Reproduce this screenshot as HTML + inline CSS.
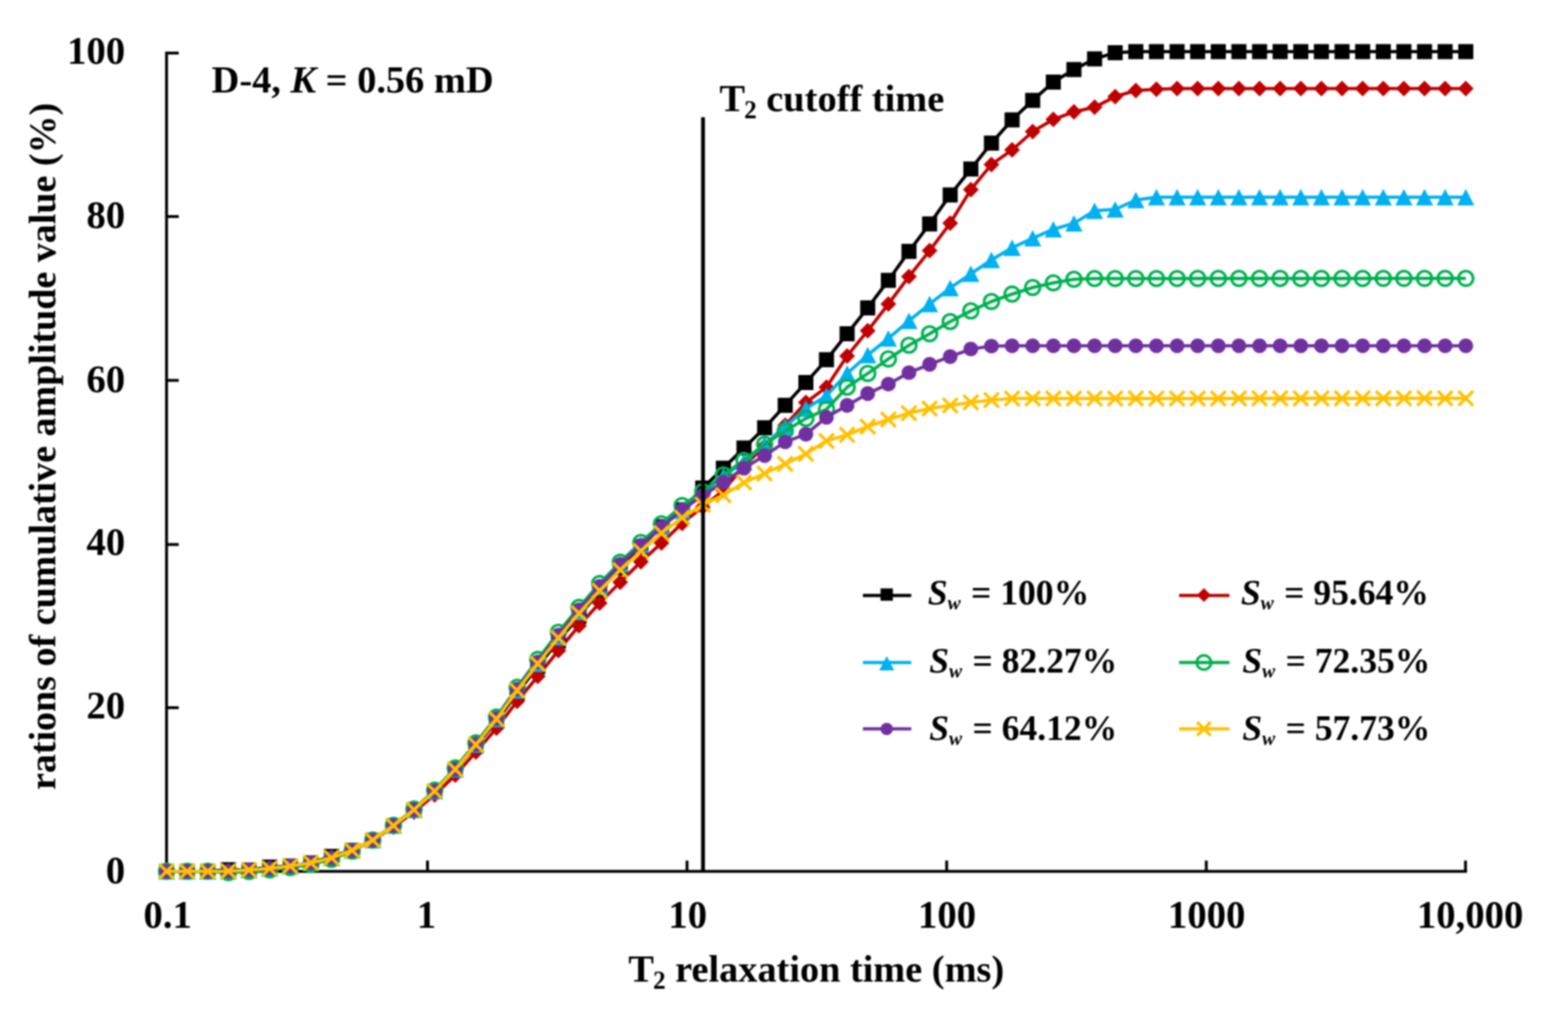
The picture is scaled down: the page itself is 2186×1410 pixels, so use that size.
<!DOCTYPE html>
<html lang="en"><head><meta charset="utf-8"><title>T2 relaxation time cumulative amplitude chart</title>
<style>
html,body{margin:0;padding:0;background:#fff;}
body{width:2186px;height:1410px;overflow:hidden;}
svg{display:block;font-family:"Liberation Serif","DejaVu Serif",serif;font-weight:bold;fill:#000;}
.it{font-style:italic;}
</style></head>
<body>
<svg width="2186" height="1410" viewBox="0 0 2186 1410" style="filter:blur(0.8px)">
<rect width="2186" height="1410" fill="#fff"/>
<g stroke="#000" stroke-width="4" fill="none" stroke-linecap="butt">
<path d="M232.2 72V1217.2"/>
<path d="M230.2 1215.2H2045.3"/>
<path d="M232.2 987H249.2"/>
<path d="M232.2 759.4H249.2"/>
<path d="M232.2 530.5H249.2"/>
<path d="M232.2 302H249.2"/>
<path d="M232.2 74H249.2"/>
<path d="M596 1215.2V1200.2"/>
<path d="M957.8 1215.2V1200.2"/>
<path d="M1319.8 1215.2V1200.2"/>
<path d="M1681.7 1215.2V1200.2"/>
<path d="M2043.1 1215.2V1200.2"/>
</g>
<g font-size="54" text-anchor="end">
<text x="174.5" y="1232.2">0</text>
<text x="174.5" y="1001.5">20</text>
<text x="174.5" y="774.4">40</text>
<text x="174.5" y="546.5">60</text>
<text x="174.5" y="317.5">80</text>
<text x="174.5" y="88.5">100</text>
</g>
<g font-size="54" text-anchor="middle">
<text x="233.8" y="1294">0.1</text>
<text x="594.5" y="1294">1</text>
<text x="958.8" y="1294">10</text>
<text x="1320.3" y="1294">100</text>
<text x="1682.2" y="1294">1000</text>
<text x="2049.6" y="1294">10,000</text>
</g>
<text font-size="53" text-anchor="middle" transform="translate(76.6 622.6) rotate(-90)">rations of cumulative amplitude value (%)</text>
<text font-size="53.4" x="876" y="1368.5">T<tspan font-size="35" font-weight="bold" dx="-1.2" dy="10">2</tspan><tspan dy="-10"> relaxation time (ms)</tspan></text>
<text font-size="53.5" x="295" y="129.3">D-4, <tspan class="it">K</tspan> = 0.56 mD</text>
<text font-size="53.5" x="1003" y="155.2">T<tspan font-size="35" font-weight="bold" dx="-1.2" dy="10">2</tspan><tspan dy="-10"> cutoff time</tspan></text>
<g>
<polyline points="232.2,1215.2 260.9,1215.2 289.7,1215.2 318.4,1213 347.2,1213.4 375.9,1209.3 404.7,1208 433.4,1203.4 462.2,1194.4 490.9,1186 519.7,1171.7 548.5,1151.5 577.2,1129.4 606,1103.5 634.7,1073 663.5,1040 692.2,1006 721,966.5 749.7,929.7 778.5,893.8 807.2,859.5 836,824.3 864.7,792 893.5,762.5 922.2,734.5 951,711 979.7,680.6 1008.5,653 1037.2,624.8 1066,596.6 1094.7,565.3 1123.5,533.5 1152.2,501.7 1181,465.5 1209.7,429.4 1238.5,391 1267.2,350.6 1296,312.3 1324.7,271.9 1353.5,235.7 1382.2,199.6 1411,167.2 1439.7,140 1468.5,114.5 1497.2,97 1526,82.1 1554.7,73.5 1583.5,72 1612.2,72 1641,72 1669.7,72 1698.5,72 1727.2,72 1756,72 1784.7,72 1813.5,72 1842.2,72 1871,72 1899.7,72 1928.5,72 1957.2,72 1986,72 2014.7,72 2043.5,72" fill="none" stroke="#000000" stroke-width="4.6" stroke-linejoin="round"/>
<rect x="221.7" y="1204.7" width="21" height="21" fill="#000000"/><rect x="250.4" y="1204.7" width="21" height="21" fill="#000000"/><rect x="279.2" y="1204.7" width="21" height="21" fill="#000000"/><rect x="307.9" y="1202.5" width="21" height="21" fill="#000000"/><rect x="336.7" y="1202.9" width="21" height="21" fill="#000000"/><rect x="365.4" y="1198.8" width="21" height="21" fill="#000000"/><rect x="394.2" y="1197.5" width="21" height="21" fill="#000000"/><rect x="422.9" y="1192.9" width="21" height="21" fill="#000000"/><rect x="451.7" y="1183.9" width="21" height="21" fill="#000000"/><rect x="480.4" y="1175.5" width="21" height="21" fill="#000000"/><rect x="509.2" y="1161.2" width="21" height="21" fill="#000000"/><rect x="538" y="1141" width="21" height="21" fill="#000000"/><rect x="566.7" y="1118.9" width="21" height="21" fill="#000000"/><rect x="595.5" y="1093" width="21" height="21" fill="#000000"/><rect x="624.2" y="1062.5" width="21" height="21" fill="#000000"/><rect x="653" y="1029.5" width="21" height="21" fill="#000000"/><rect x="681.7" y="995.5" width="21" height="21" fill="#000000"/><rect x="710.5" y="956" width="21" height="21" fill="#000000"/><rect x="739.2" y="919.2" width="21" height="21" fill="#000000"/><rect x="768" y="883.3" width="21" height="21" fill="#000000"/><rect x="796.7" y="849" width="21" height="21" fill="#000000"/><rect x="825.5" y="813.8" width="21" height="21" fill="#000000"/><rect x="854.2" y="781.5" width="21" height="21" fill="#000000"/><rect x="883" y="752" width="21" height="21" fill="#000000"/><rect x="911.7" y="724" width="21" height="21" fill="#000000"/><rect x="940.5" y="700.5" width="21" height="21" fill="#000000"/><rect x="969.2" y="670.1" width="21" height="21" fill="#000000"/><rect x="998" y="642.5" width="21" height="21" fill="#000000"/><rect x="1026.7" y="614.3" width="21" height="21" fill="#000000"/><rect x="1055.5" y="586.1" width="21" height="21" fill="#000000"/><rect x="1084.2" y="554.8" width="21" height="21" fill="#000000"/><rect x="1113" y="523" width="21" height="21" fill="#000000"/><rect x="1141.7" y="491.2" width="21" height="21" fill="#000000"/><rect x="1170.5" y="455" width="21" height="21" fill="#000000"/><rect x="1199.2" y="418.9" width="21" height="21" fill="#000000"/><rect x="1228" y="380.5" width="21" height="21" fill="#000000"/><rect x="1256.7" y="340.1" width="21" height="21" fill="#000000"/><rect x="1285.5" y="301.8" width="21" height="21" fill="#000000"/><rect x="1314.2" y="261.4" width="21" height="21" fill="#000000"/><rect x="1343" y="225.2" width="21" height="21" fill="#000000"/><rect x="1371.7" y="189.1" width="21" height="21" fill="#000000"/><rect x="1400.5" y="156.7" width="21" height="21" fill="#000000"/><rect x="1429.2" y="129.5" width="21" height="21" fill="#000000"/><rect x="1458" y="104" width="21" height="21" fill="#000000"/><rect x="1486.7" y="86.5" width="21" height="21" fill="#000000"/><rect x="1515.5" y="71.6" width="21" height="21" fill="#000000"/><rect x="1544.2" y="63" width="21" height="21" fill="#000000"/><rect x="1573" y="61.5" width="21" height="21" fill="#000000"/><rect x="1601.7" y="61.5" width="21" height="21" fill="#000000"/><rect x="1630.5" y="61.5" width="21" height="21" fill="#000000"/><rect x="1659.2" y="61.5" width="21" height="21" fill="#000000"/><rect x="1688" y="61.5" width="21" height="21" fill="#000000"/><rect x="1716.7" y="61.5" width="21" height="21" fill="#000000"/><rect x="1745.5" y="61.5" width="21" height="21" fill="#000000"/><rect x="1774.2" y="61.5" width="21" height="21" fill="#000000"/><rect x="1803" y="61.5" width="21" height="21" fill="#000000"/><rect x="1831.7" y="61.5" width="21" height="21" fill="#000000"/><rect x="1860.5" y="61.5" width="21" height="21" fill="#000000"/><rect x="1889.2" y="61.5" width="21" height="21" fill="#000000"/><rect x="1918" y="61.5" width="21" height="21" fill="#000000"/><rect x="1946.7" y="61.5" width="21" height="21" fill="#000000"/><rect x="1975.5" y="61.5" width="21" height="21" fill="#000000"/><rect x="2004.2" y="61.5" width="21" height="21" fill="#000000"/><rect x="2033" y="61.5" width="21" height="21" fill="#000000"/>
</g>
<g>
<polyline points="232.2,1215.2 260.9,1215.2 289.7,1215.2 318.4,1215 347.2,1213.4 375.9,1211.3 404.7,1208 433.4,1203.4 462.2,1196.4 490.9,1186 519.7,1171.7 548.5,1153.5 577.2,1132.4 606,1108.5 634.7,1081 663.5,1048.8 692.2,1015.4 721,978 749.7,943.2 778.5,907.2 807.2,872.8 836,840.9 864.7,812 893.5,783.5 922.2,757.3 951,730 979.7,707 1008.5,684 1037.2,650 1066,622 1094.7,593 1123.5,561.3 1152.2,540 1181,496.4 1209.7,461.3 1238.5,424 1267.2,385.7 1296,349.6 1324.7,311.3 1353.5,264.5 1382.2,229.4 1411,209.1 1439.7,183.6 1468.5,166.6 1497.2,156 1526,149.6 1554.7,134.7 1583.5,126.2 1612.2,124.5 1641,123.5 1669.7,123.5 1698.5,123.5 1727.2,123.5 1756,123.5 1784.7,123.5 1813.5,123.5 1842.2,123.5 1871,123.5 1899.7,123.5 1928.5,123.5 1957.2,123.5 1986,123.5 2014.7,123.5 2043.5,123.5" fill="none" stroke="#c00000" stroke-width="4.6" stroke-linejoin="round"/>
<path d="M232.2 1204.2L243.2 1215.2L232.2 1226.2L221.2 1215.2Z" fill="#c00000"/><path d="M260.9 1204.2L271.9 1215.2L260.9 1226.2L249.9 1215.2Z" fill="#c00000"/><path d="M289.7 1204.2L300.7 1215.2L289.7 1226.2L278.7 1215.2Z" fill="#c00000"/><path d="M318.4 1204L329.4 1215L318.4 1226L307.4 1215Z" fill="#c00000"/><path d="M347.2 1202.4L358.2 1213.4L347.2 1224.4L336.2 1213.4Z" fill="#c00000"/><path d="M375.9 1200.3L386.9 1211.3L375.9 1222.3L364.9 1211.3Z" fill="#c00000"/><path d="M404.7 1197L415.7 1208L404.7 1219L393.7 1208Z" fill="#c00000"/><path d="M433.4 1192.4L444.4 1203.4L433.4 1214.4L422.4 1203.4Z" fill="#c00000"/><path d="M462.2 1185.4L473.2 1196.4L462.2 1207.4L451.2 1196.4Z" fill="#c00000"/><path d="M490.9 1175L501.9 1186L490.9 1197L479.9 1186Z" fill="#c00000"/><path d="M519.7 1160.7L530.7 1171.7L519.7 1182.7L508.7 1171.7Z" fill="#c00000"/><path d="M548.5 1142.5L559.5 1153.5L548.5 1164.5L537.5 1153.5Z" fill="#c00000"/><path d="M577.2 1121.4L588.2 1132.4L577.2 1143.4L566.2 1132.4Z" fill="#c00000"/><path d="M606 1097.5L617 1108.5L606 1119.5L595 1108.5Z" fill="#c00000"/><path d="M634.7 1070L645.7 1081L634.7 1092L623.7 1081Z" fill="#c00000"/><path d="M663.5 1037.8L674.5 1048.8L663.5 1059.8L652.5 1048.8Z" fill="#c00000"/><path d="M692.2 1004.4L703.2 1015.4L692.2 1026.4L681.2 1015.4Z" fill="#c00000"/><path d="M721 967L732 978L721 989L710 978Z" fill="#c00000"/><path d="M749.7 932.2L760.7 943.2L749.7 954.2L738.7 943.2Z" fill="#c00000"/><path d="M778.5 896.2L789.5 907.2L778.5 918.2L767.5 907.2Z" fill="#c00000"/><path d="M807.2 861.8L818.2 872.8L807.2 883.8L796.2 872.8Z" fill="#c00000"/><path d="M836 829.9L847 840.9L836 851.9L825 840.9Z" fill="#c00000"/><path d="M864.7 801L875.7 812L864.7 823L853.7 812Z" fill="#c00000"/><path d="M893.5 772.5L904.5 783.5L893.5 794.5L882.5 783.5Z" fill="#c00000"/><path d="M922.2 746.3L933.2 757.3L922.2 768.3L911.2 757.3Z" fill="#c00000"/><path d="M951 719L962 730L951 741L940 730Z" fill="#c00000"/><path d="M979.7 696L990.7 707L979.7 718L968.7 707Z" fill="#c00000"/><path d="M1008.5 673L1019.5 684L1008.5 695L997.5 684Z" fill="#c00000"/><path d="M1037.2 639L1048.2 650L1037.2 661L1026.2 650Z" fill="#c00000"/><path d="M1066 611L1077 622L1066 633L1055 622Z" fill="#c00000"/><path d="M1094.7 582L1105.7 593L1094.7 604L1083.7 593Z" fill="#c00000"/><path d="M1123.5 550.3L1134.5 561.3L1123.5 572.3L1112.5 561.3Z" fill="#c00000"/><path d="M1152.2 529L1163.2 540L1152.2 551L1141.2 540Z" fill="#c00000"/><path d="M1181 485.4L1192 496.4L1181 507.4L1170 496.4Z" fill="#c00000"/><path d="M1209.7 450.3L1220.7 461.3L1209.7 472.3L1198.7 461.3Z" fill="#c00000"/><path d="M1238.5 413L1249.5 424L1238.5 435L1227.5 424Z" fill="#c00000"/><path d="M1267.2 374.7L1278.2 385.7L1267.2 396.7L1256.2 385.7Z" fill="#c00000"/><path d="M1296 338.6L1307 349.6L1296 360.6L1285 349.6Z" fill="#c00000"/><path d="M1324.7 300.3L1335.7 311.3L1324.7 322.3L1313.7 311.3Z" fill="#c00000"/><path d="M1353.5 253.5L1364.5 264.5L1353.5 275.5L1342.5 264.5Z" fill="#c00000"/><path d="M1382.2 218.4L1393.2 229.4L1382.2 240.4L1371.2 229.4Z" fill="#c00000"/><path d="M1411 198.1L1422 209.1L1411 220.1L1400 209.1Z" fill="#c00000"/><path d="M1439.7 172.6L1450.7 183.6L1439.7 194.6L1428.7 183.6Z" fill="#c00000"/><path d="M1468.5 155.6L1479.5 166.6L1468.5 177.6L1457.5 166.6Z" fill="#c00000"/><path d="M1497.2 145L1508.2 156L1497.2 167L1486.2 156Z" fill="#c00000"/><path d="M1526 138.6L1537 149.6L1526 160.6L1515 149.6Z" fill="#c00000"/><path d="M1554.7 123.7L1565.7 134.7L1554.7 145.7L1543.7 134.7Z" fill="#c00000"/><path d="M1583.5 115.2L1594.5 126.2L1583.5 137.2L1572.5 126.2Z" fill="#c00000"/><path d="M1612.2 113.5L1623.2 124.5L1612.2 135.5L1601.2 124.5Z" fill="#c00000"/><path d="M1641 112.5L1652 123.5L1641 134.5L1630 123.5Z" fill="#c00000"/><path d="M1669.7 112.5L1680.7 123.5L1669.7 134.5L1658.7 123.5Z" fill="#c00000"/><path d="M1698.5 112.5L1709.5 123.5L1698.5 134.5L1687.5 123.5Z" fill="#c00000"/><path d="M1727.2 112.5L1738.2 123.5L1727.2 134.5L1716.2 123.5Z" fill="#c00000"/><path d="M1756 112.5L1767 123.5L1756 134.5L1745 123.5Z" fill="#c00000"/><path d="M1784.7 112.5L1795.7 123.5L1784.7 134.5L1773.7 123.5Z" fill="#c00000"/><path d="M1813.5 112.5L1824.5 123.5L1813.5 134.5L1802.5 123.5Z" fill="#c00000"/><path d="M1842.2 112.5L1853.2 123.5L1842.2 134.5L1831.2 123.5Z" fill="#c00000"/><path d="M1871 112.5L1882 123.5L1871 134.5L1860 123.5Z" fill="#c00000"/><path d="M1899.7 112.5L1910.7 123.5L1899.7 134.5L1888.7 123.5Z" fill="#c00000"/><path d="M1928.5 112.5L1939.5 123.5L1928.5 134.5L1917.5 123.5Z" fill="#c00000"/><path d="M1957.2 112.5L1968.2 123.5L1957.2 134.5L1946.2 123.5Z" fill="#c00000"/><path d="M1986 112.5L1997 123.5L1986 134.5L1975 123.5Z" fill="#c00000"/><path d="M2014.7 112.5L2025.7 123.5L2014.7 134.5L2003.7 123.5Z" fill="#c00000"/><path d="M2043.5 112.5L2054.4 123.5L2043.5 134.5L2032.5 123.5Z" fill="#c00000"/>
</g>
<g>
<polyline points="232.2,1215.2 260.9,1215.2 289.7,1215.2 318.4,1215 347.2,1213.4 375.9,1211.3 404.7,1208 433.4,1203.4 462.2,1196.4 490.9,1186 519.7,1171.7 548.5,1151.5 577.2,1129.4 606,1103.5 634.7,1073 663.5,1038.5 692.2,1003 721,963 749.7,925.7 778.5,888.8 807.2,853.5 836,818.8 864.7,787 893.5,760 922.2,734.4 951,712.4 979.7,688 1008.5,664 1037.2,644 1066,620 1094.7,595 1123.5,570 1152.2,552 1181,520.9 1209.7,495.3 1238.5,471.9 1267.2,447.4 1296,424 1324.7,401.7 1353.5,381.8 1382.2,362.5 1411,345.5 1439.7,332.3 1468.5,319.7 1497.2,311.4 1526,293.9 1554.7,292 1583.5,279 1612.2,275 1641,275 1669.7,275 1698.5,275 1727.2,275 1756,275 1784.7,275 1813.5,275 1842.2,275 1871,275 1899.7,275 1928.5,275 1957.2,275 1986,275 2014.7,275 2043.5,275" fill="none" stroke="#00b0f0" stroke-width="4.6" stroke-linejoin="round"/>
<path d="M232.2 1203.7L244.2 1226.7L220.2 1226.7Z" fill="#00b0f0"/><path d="M260.9 1203.7L272.9 1226.7L248.9 1226.7Z" fill="#00b0f0"/><path d="M289.7 1203.7L301.7 1226.7L277.7 1226.7Z" fill="#00b0f0"/><path d="M318.4 1203.5L330.4 1226.5L306.4 1226.5Z" fill="#00b0f0"/><path d="M347.2 1201.9L359.2 1224.9L335.2 1224.9Z" fill="#00b0f0"/><path d="M375.9 1199.8L387.9 1222.8L363.9 1222.8Z" fill="#00b0f0"/><path d="M404.7 1196.5L416.7 1219.5L392.7 1219.5Z" fill="#00b0f0"/><path d="M433.4 1191.9L445.4 1214.9L421.4 1214.9Z" fill="#00b0f0"/><path d="M462.2 1184.9L474.2 1207.9L450.2 1207.9Z" fill="#00b0f0"/><path d="M490.9 1174.5L502.9 1197.5L478.9 1197.5Z" fill="#00b0f0"/><path d="M519.7 1160.2L531.7 1183.2L507.7 1183.2Z" fill="#00b0f0"/><path d="M548.5 1140L560.5 1163L536.5 1163Z" fill="#00b0f0"/><path d="M577.2 1117.9L589.2 1140.9L565.2 1140.9Z" fill="#00b0f0"/><path d="M606 1092L618 1115L594 1115Z" fill="#00b0f0"/><path d="M634.7 1061.5L646.7 1084.5L622.7 1084.5Z" fill="#00b0f0"/><path d="M663.5 1027L675.5 1050L651.5 1050Z" fill="#00b0f0"/><path d="M692.2 991.5L704.2 1014.5L680.2 1014.5Z" fill="#00b0f0"/><path d="M721 951.5L733 974.5L709 974.5Z" fill="#00b0f0"/><path d="M749.7 914.2L761.7 937.2L737.7 937.2Z" fill="#00b0f0"/><path d="M778.5 877.3L790.5 900.3L766.5 900.3Z" fill="#00b0f0"/><path d="M807.2 842L819.2 865L795.2 865Z" fill="#00b0f0"/><path d="M836 807.3L848 830.3L824 830.3Z" fill="#00b0f0"/><path d="M864.7 775.5L876.7 798.5L852.7 798.5Z" fill="#00b0f0"/><path d="M893.5 748.5L905.5 771.5L881.5 771.5Z" fill="#00b0f0"/><path d="M922.2 722.9L934.2 745.9L910.2 745.9Z" fill="#00b0f0"/><path d="M951 700.9L963 723.9L939 723.9Z" fill="#00b0f0"/><path d="M979.7 676.5L991.7 699.5L967.7 699.5Z" fill="#00b0f0"/><path d="M1008.5 652.5L1020.5 675.5L996.5 675.5Z" fill="#00b0f0"/><path d="M1037.2 632.5L1049.2 655.5L1025.2 655.5Z" fill="#00b0f0"/><path d="M1066 608.5L1078 631.5L1054 631.5Z" fill="#00b0f0"/><path d="M1094.7 583.5L1106.7 606.5L1082.7 606.5Z" fill="#00b0f0"/><path d="M1123.5 558.5L1135.5 581.5L1111.5 581.5Z" fill="#00b0f0"/><path d="M1152.2 540.5L1164.2 563.5L1140.2 563.5Z" fill="#00b0f0"/><path d="M1181 509.4L1193 532.4L1169 532.4Z" fill="#00b0f0"/><path d="M1209.7 483.8L1221.7 506.8L1197.7 506.8Z" fill="#00b0f0"/><path d="M1238.5 460.4L1250.5 483.4L1226.5 483.4Z" fill="#00b0f0"/><path d="M1267.2 435.9L1279.2 458.9L1255.2 458.9Z" fill="#00b0f0"/><path d="M1296 412.5L1308 435.5L1284 435.5Z" fill="#00b0f0"/><path d="M1324.7 390.2L1336.7 413.2L1312.7 413.2Z" fill="#00b0f0"/><path d="M1353.5 370.3L1365.5 393.3L1341.5 393.3Z" fill="#00b0f0"/><path d="M1382.2 351L1394.2 374L1370.2 374Z" fill="#00b0f0"/><path d="M1411 334L1423 357L1399 357Z" fill="#00b0f0"/><path d="M1439.7 320.8L1451.7 343.8L1427.7 343.8Z" fill="#00b0f0"/><path d="M1468.5 308.2L1480.5 331.2L1456.5 331.2Z" fill="#00b0f0"/><path d="M1497.2 299.9L1509.2 322.9L1485.2 322.9Z" fill="#00b0f0"/><path d="M1526 282.4L1538 305.4L1514 305.4Z" fill="#00b0f0"/><path d="M1554.7 280.5L1566.7 303.5L1542.7 303.5Z" fill="#00b0f0"/><path d="M1583.5 267.5L1595.5 290.5L1571.5 290.5Z" fill="#00b0f0"/><path d="M1612.2 263.5L1624.2 286.5L1600.2 286.5Z" fill="#00b0f0"/><path d="M1641 263.5L1653 286.5L1629 286.5Z" fill="#00b0f0"/><path d="M1669.7 263.5L1681.7 286.5L1657.7 286.5Z" fill="#00b0f0"/><path d="M1698.5 263.5L1710.5 286.5L1686.5 286.5Z" fill="#00b0f0"/><path d="M1727.2 263.5L1739.2 286.5L1715.2 286.5Z" fill="#00b0f0"/><path d="M1756 263.5L1768 286.5L1744 286.5Z" fill="#00b0f0"/><path d="M1784.7 263.5L1796.7 286.5L1772.7 286.5Z" fill="#00b0f0"/><path d="M1813.5 263.5L1825.5 286.5L1801.5 286.5Z" fill="#00b0f0"/><path d="M1842.2 263.5L1854.2 286.5L1830.2 286.5Z" fill="#00b0f0"/><path d="M1871 263.5L1883 286.5L1859 286.5Z" fill="#00b0f0"/><path d="M1899.7 263.5L1911.7 286.5L1887.7 286.5Z" fill="#00b0f0"/><path d="M1928.5 263.5L1940.5 286.5L1916.5 286.5Z" fill="#00b0f0"/><path d="M1957.2 263.5L1969.2 286.5L1945.2 286.5Z" fill="#00b0f0"/><path d="M1986 263.5L1998 286.5L1974 286.5Z" fill="#00b0f0"/><path d="M2014.7 263.5L2026.7 286.5L2002.7 286.5Z" fill="#00b0f0"/><path d="M2043.5 263.5L2055.4 286.5L2031.5 286.5Z" fill="#00b0f0"/>
</g>
<g>
<polyline points="232.2,1215.2 260.9,1215.2 289.7,1215.2 318.4,1217 347.2,1215.4 375.9,1213.3 404.7,1210 433.4,1205.4 462.2,1198.4 490.9,1187 519.7,1171.7 548.5,1151 577.2,1128.4 606,1102 634.7,1071 663.5,1036 692.2,1000 721,958.5 749.7,919.7 778.5,881.8 807.2,847 836,813.8 864.7,784 893.5,756.5 922.2,730.5 951,705 979.7,685.5 1008.5,662.3 1037.2,642 1066,619.5 1094.7,601 1123.5,583.6 1152.2,570.9 1181,540 1209.7,520.9 1238.5,500.6 1267.2,481.5 1296,465.5 1324.7,448.5 1353.5,433.6 1382.2,420.5 1411,410.2 1439.7,401 1468.5,394.5 1497.2,389.5 1526,388.5 1554.7,388.5 1583.5,388.5 1612.2,388.5 1641,388.5 1669.7,388.4 1698.5,388.4 1727.2,388.4 1756,388.4 1784.7,388.4 1813.5,388.4 1842.2,388.4 1871,388.4 1899.7,388.4 1928.5,388.3 1957.2,388.3 1986,388.3 2014.7,388.3 2043.5,388.3" fill="none" stroke="#00b050" stroke-width="4.6" stroke-linejoin="round"/>
<circle cx="232.2" cy="1215.2" r="10.2" fill="none" stroke="#00b050" stroke-width="3.8"/><circle cx="260.9" cy="1215.2" r="10.2" fill="none" stroke="#00b050" stroke-width="3.8"/><circle cx="289.7" cy="1215.2" r="10.2" fill="none" stroke="#00b050" stroke-width="3.8"/><circle cx="318.4" cy="1217" r="10.2" fill="none" stroke="#00b050" stroke-width="3.8"/><circle cx="347.2" cy="1215.4" r="10.2" fill="none" stroke="#00b050" stroke-width="3.8"/><circle cx="375.9" cy="1213.3" r="10.2" fill="none" stroke="#00b050" stroke-width="3.8"/><circle cx="404.7" cy="1210" r="10.2" fill="none" stroke="#00b050" stroke-width="3.8"/><circle cx="433.4" cy="1205.4" r="10.2" fill="none" stroke="#00b050" stroke-width="3.8"/><circle cx="462.2" cy="1198.4" r="10.2" fill="none" stroke="#00b050" stroke-width="3.8"/><circle cx="490.9" cy="1187" r="10.2" fill="none" stroke="#00b050" stroke-width="3.8"/><circle cx="519.7" cy="1171.7" r="10.2" fill="none" stroke="#00b050" stroke-width="3.8"/><circle cx="548.5" cy="1151" r="10.2" fill="none" stroke="#00b050" stroke-width="3.8"/><circle cx="577.2" cy="1128.4" r="10.2" fill="none" stroke="#00b050" stroke-width="3.8"/><circle cx="606" cy="1102" r="10.2" fill="none" stroke="#00b050" stroke-width="3.8"/><circle cx="634.7" cy="1071" r="10.2" fill="none" stroke="#00b050" stroke-width="3.8"/><circle cx="663.5" cy="1036" r="10.2" fill="none" stroke="#00b050" stroke-width="3.8"/><circle cx="692.2" cy="1000" r="10.2" fill="none" stroke="#00b050" stroke-width="3.8"/><circle cx="721" cy="958.5" r="10.2" fill="none" stroke="#00b050" stroke-width="3.8"/><circle cx="749.7" cy="919.7" r="10.2" fill="none" stroke="#00b050" stroke-width="3.8"/><circle cx="778.5" cy="881.8" r="10.2" fill="none" stroke="#00b050" stroke-width="3.8"/><circle cx="807.2" cy="847" r="10.2" fill="none" stroke="#00b050" stroke-width="3.8"/><circle cx="836" cy="813.8" r="10.2" fill="none" stroke="#00b050" stroke-width="3.8"/><circle cx="864.7" cy="784" r="10.2" fill="none" stroke="#00b050" stroke-width="3.8"/><circle cx="893.5" cy="756.5" r="10.2" fill="none" stroke="#00b050" stroke-width="3.8"/><circle cx="922.2" cy="730.5" r="10.2" fill="none" stroke="#00b050" stroke-width="3.8"/><circle cx="951" cy="705" r="10.2" fill="none" stroke="#00b050" stroke-width="3.8"/><circle cx="979.7" cy="685.5" r="10.2" fill="none" stroke="#00b050" stroke-width="3.8"/><circle cx="1008.5" cy="662.3" r="10.2" fill="none" stroke="#00b050" stroke-width="3.8"/><circle cx="1037.2" cy="642" r="10.2" fill="none" stroke="#00b050" stroke-width="3.8"/><circle cx="1066" cy="619.5" r="10.2" fill="none" stroke="#00b050" stroke-width="3.8"/><circle cx="1094.7" cy="601" r="10.2" fill="none" stroke="#00b050" stroke-width="3.8"/><circle cx="1123.5" cy="583.6" r="10.2" fill="none" stroke="#00b050" stroke-width="3.8"/><circle cx="1152.2" cy="570.9" r="10.2" fill="none" stroke="#00b050" stroke-width="3.8"/><circle cx="1181" cy="540" r="10.2" fill="none" stroke="#00b050" stroke-width="3.8"/><circle cx="1209.7" cy="520.9" r="10.2" fill="none" stroke="#00b050" stroke-width="3.8"/><circle cx="1238.5" cy="500.6" r="10.2" fill="none" stroke="#00b050" stroke-width="3.8"/><circle cx="1267.2" cy="481.5" r="10.2" fill="none" stroke="#00b050" stroke-width="3.8"/><circle cx="1296" cy="465.5" r="10.2" fill="none" stroke="#00b050" stroke-width="3.8"/><circle cx="1324.7" cy="448.5" r="10.2" fill="none" stroke="#00b050" stroke-width="3.8"/><circle cx="1353.5" cy="433.6" r="10.2" fill="none" stroke="#00b050" stroke-width="3.8"/><circle cx="1382.2" cy="420.5" r="10.2" fill="none" stroke="#00b050" stroke-width="3.8"/><circle cx="1411" cy="410.2" r="10.2" fill="none" stroke="#00b050" stroke-width="3.8"/><circle cx="1439.7" cy="401" r="10.2" fill="none" stroke="#00b050" stroke-width="3.8"/><circle cx="1468.5" cy="394.5" r="10.2" fill="none" stroke="#00b050" stroke-width="3.8"/><circle cx="1497.2" cy="389.5" r="10.2" fill="none" stroke="#00b050" stroke-width="3.8"/><circle cx="1526" cy="388.5" r="10.2" fill="none" stroke="#00b050" stroke-width="3.8"/><circle cx="1554.7" cy="388.5" r="10.2" fill="none" stroke="#00b050" stroke-width="3.8"/><circle cx="1583.5" cy="388.5" r="10.2" fill="none" stroke="#00b050" stroke-width="3.8"/><circle cx="1612.2" cy="388.5" r="10.2" fill="none" stroke="#00b050" stroke-width="3.8"/><circle cx="1641" cy="388.5" r="10.2" fill="none" stroke="#00b050" stroke-width="3.8"/><circle cx="1669.7" cy="388.4" r="10.2" fill="none" stroke="#00b050" stroke-width="3.8"/><circle cx="1698.5" cy="388.4" r="10.2" fill="none" stroke="#00b050" stroke-width="3.8"/><circle cx="1727.2" cy="388.4" r="10.2" fill="none" stroke="#00b050" stroke-width="3.8"/><circle cx="1756" cy="388.4" r="10.2" fill="none" stroke="#00b050" stroke-width="3.8"/><circle cx="1784.7" cy="388.4" r="10.2" fill="none" stroke="#00b050" stroke-width="3.8"/><circle cx="1813.5" cy="388.4" r="10.2" fill="none" stroke="#00b050" stroke-width="3.8"/><circle cx="1842.2" cy="388.4" r="10.2" fill="none" stroke="#00b050" stroke-width="3.8"/><circle cx="1871" cy="388.4" r="10.2" fill="none" stroke="#00b050" stroke-width="3.8"/><circle cx="1899.7" cy="388.4" r="10.2" fill="none" stroke="#00b050" stroke-width="3.8"/><circle cx="1928.5" cy="388.3" r="10.2" fill="none" stroke="#00b050" stroke-width="3.8"/><circle cx="1957.2" cy="388.3" r="10.2" fill="none" stroke="#00b050" stroke-width="3.8"/><circle cx="1986" cy="388.3" r="10.2" fill="none" stroke="#00b050" stroke-width="3.8"/><circle cx="2014.7" cy="388.3" r="10.2" fill="none" stroke="#00b050" stroke-width="3.8"/><circle cx="2043.5" cy="388.3" r="10.2" fill="none" stroke="#00b050" stroke-width="3.8"/>
</g>
<g>
<polyline points="232.2,1215.2 260.9,1215.2 289.7,1215.2 318.4,1215 347.2,1213.4 375.9,1211.3 404.7,1208 433.4,1203.4 462.2,1196.4 490.9,1186 519.7,1171.7 548.5,1151.5 577.2,1129.4 606,1103.5 634.7,1073 663.5,1038 692.2,1002 721,961.2 749.7,923.2 778.5,885.8 807.2,850.5 836,817.8 864.7,787 893.5,760.5 922.2,735 951,711 979.7,691 1008.5,672.7 1037.2,653 1066,635.4 1094.7,616.3 1123.5,605.6 1152.2,582 1181,565.4 1209.7,548.9 1238.5,535.7 1267.2,519.8 1296,508.1 1324.7,497.4 1353.5,486.8 1382.2,482.8 1411,482.3 1439.7,482.3 1468.5,482.3 1497.2,482.3 1526,482.3 1554.7,482.3 1583.5,482.3 1612.2,482.3 1641,482.3 1669.7,482.3 1698.5,482.3 1727.2,482.3 1756,482.3 1784.7,482.3 1813.5,482.3 1842.2,482.3 1871,482.3 1899.7,482.3 1928.5,482.3 1957.2,482.3 1986,482.3 2014.7,482.3 2043.5,482.3" fill="none" stroke="#7030a0" stroke-width="4.6" stroke-linejoin="round"/>
<circle cx="232.2" cy="1215.2" r="10.3" fill="#7030a0"/><circle cx="260.9" cy="1215.2" r="10.3" fill="#7030a0"/><circle cx="289.7" cy="1215.2" r="10.3" fill="#7030a0"/><circle cx="318.4" cy="1215" r="10.3" fill="#7030a0"/><circle cx="347.2" cy="1213.4" r="10.3" fill="#7030a0"/><circle cx="375.9" cy="1211.3" r="10.3" fill="#7030a0"/><circle cx="404.7" cy="1208" r="10.3" fill="#7030a0"/><circle cx="433.4" cy="1203.4" r="10.3" fill="#7030a0"/><circle cx="462.2" cy="1196.4" r="10.3" fill="#7030a0"/><circle cx="490.9" cy="1186" r="10.3" fill="#7030a0"/><circle cx="519.7" cy="1171.7" r="10.3" fill="#7030a0"/><circle cx="548.5" cy="1151.5" r="10.3" fill="#7030a0"/><circle cx="577.2" cy="1129.4" r="10.3" fill="#7030a0"/><circle cx="606" cy="1103.5" r="10.3" fill="#7030a0"/><circle cx="634.7" cy="1073" r="10.3" fill="#7030a0"/><circle cx="663.5" cy="1038" r="10.3" fill="#7030a0"/><circle cx="692.2" cy="1002" r="10.3" fill="#7030a0"/><circle cx="721" cy="961.2" r="10.3" fill="#7030a0"/><circle cx="749.7" cy="923.2" r="10.3" fill="#7030a0"/><circle cx="778.5" cy="885.8" r="10.3" fill="#7030a0"/><circle cx="807.2" cy="850.5" r="10.3" fill="#7030a0"/><circle cx="836" cy="817.8" r="10.3" fill="#7030a0"/><circle cx="864.7" cy="787" r="10.3" fill="#7030a0"/><circle cx="893.5" cy="760.5" r="10.3" fill="#7030a0"/><circle cx="922.2" cy="735" r="10.3" fill="#7030a0"/><circle cx="951" cy="711" r="10.3" fill="#7030a0"/><circle cx="979.7" cy="691" r="10.3" fill="#7030a0"/><circle cx="1008.5" cy="672.7" r="10.3" fill="#7030a0"/><circle cx="1037.2" cy="653" r="10.3" fill="#7030a0"/><circle cx="1066" cy="635.4" r="10.3" fill="#7030a0"/><circle cx="1094.7" cy="616.3" r="10.3" fill="#7030a0"/><circle cx="1123.5" cy="605.6" r="10.3" fill="#7030a0"/><circle cx="1152.2" cy="582" r="10.3" fill="#7030a0"/><circle cx="1181" cy="565.4" r="10.3" fill="#7030a0"/><circle cx="1209.7" cy="548.9" r="10.3" fill="#7030a0"/><circle cx="1238.5" cy="535.7" r="10.3" fill="#7030a0"/><circle cx="1267.2" cy="519.8" r="10.3" fill="#7030a0"/><circle cx="1296" cy="508.1" r="10.3" fill="#7030a0"/><circle cx="1324.7" cy="497.4" r="10.3" fill="#7030a0"/><circle cx="1353.5" cy="486.8" r="10.3" fill="#7030a0"/><circle cx="1382.2" cy="482.8" r="10.3" fill="#7030a0"/><circle cx="1411" cy="482.3" r="10.3" fill="#7030a0"/><circle cx="1439.7" cy="482.3" r="10.3" fill="#7030a0"/><circle cx="1468.5" cy="482.3" r="10.3" fill="#7030a0"/><circle cx="1497.2" cy="482.3" r="10.3" fill="#7030a0"/><circle cx="1526" cy="482.3" r="10.3" fill="#7030a0"/><circle cx="1554.7" cy="482.3" r="10.3" fill="#7030a0"/><circle cx="1583.5" cy="482.3" r="10.3" fill="#7030a0"/><circle cx="1612.2" cy="482.3" r="10.3" fill="#7030a0"/><circle cx="1641" cy="482.3" r="10.3" fill="#7030a0"/><circle cx="1669.7" cy="482.3" r="10.3" fill="#7030a0"/><circle cx="1698.5" cy="482.3" r="10.3" fill="#7030a0"/><circle cx="1727.2" cy="482.3" r="10.3" fill="#7030a0"/><circle cx="1756" cy="482.3" r="10.3" fill="#7030a0"/><circle cx="1784.7" cy="482.3" r="10.3" fill="#7030a0"/><circle cx="1813.5" cy="482.3" r="10.3" fill="#7030a0"/><circle cx="1842.2" cy="482.3" r="10.3" fill="#7030a0"/><circle cx="1871" cy="482.3" r="10.3" fill="#7030a0"/><circle cx="1899.7" cy="482.3" r="10.3" fill="#7030a0"/><circle cx="1928.5" cy="482.3" r="10.3" fill="#7030a0"/><circle cx="1957.2" cy="482.3" r="10.3" fill="#7030a0"/><circle cx="1986" cy="482.3" r="10.3" fill="#7030a0"/><circle cx="2014.7" cy="482.3" r="10.3" fill="#7030a0"/><circle cx="2043.5" cy="482.3" r="10.3" fill="#7030a0"/>
</g>
<g>
<polyline points="232.2,1215.2 260.9,1215.2 289.7,1215.2 318.4,1215 347.2,1213.4 375.9,1211.3 404.7,1208 433.4,1203.4 462.2,1196.4 490.9,1186 519.7,1171.7 548.5,1151.5 577.2,1129.4 606,1103.5 634.7,1073 663.5,1038.5 692.2,1003 721,963 749.7,925.7 778.5,889.8 807.2,855.5 836,823.8 864.7,795 893.5,768.5 922.2,743.5 951,722 979.7,704 1008.5,690.6 1037.2,673 1066,660.5 1094.7,647 1123.5,633 1152.2,615 1181,606.4 1209.7,595 1238.5,585 1267.2,576.2 1296,569.8 1324.7,565.5 1353.5,561.3 1382.2,558 1411,555.8 1439.7,555.8 1468.5,555.8 1497.2,555.8 1526,555.7 1554.7,555.7 1583.5,555.7 1612.2,555.7 1641,555.7 1669.7,555.7 1698.5,555.7 1727.2,555.6 1756,555.6 1784.7,555.6 1813.5,555.6 1842.2,555.6 1871,555.6 1899.7,555.6 1928.5,555.6 1957.2,555.5 1986,555.5 2014.7,555.5 2043.5,555.5" fill="none" stroke="#ffc000" stroke-width="4.6" stroke-linejoin="round"/>
<path d="M221.9 1204.9L242.5 1225.5M221.9 1225.5L242.5 1204.9" stroke="#ffc000" stroke-width="4.2" fill="none" stroke-linecap="butt"/><path d="M250.6 1204.9L271.2 1225.5M250.6 1225.5L271.2 1204.9" stroke="#ffc000" stroke-width="4.2" fill="none" stroke-linecap="butt"/><path d="M279.4 1204.9L300 1225.5M279.4 1225.5L300 1204.9" stroke="#ffc000" stroke-width="4.2" fill="none" stroke-linecap="butt"/><path d="M308.1 1204.7L328.8 1225.3M308.1 1225.3L328.8 1204.7" stroke="#ffc000" stroke-width="4.2" fill="none" stroke-linecap="butt"/><path d="M336.9 1203.1L357.5 1223.7M336.9 1223.7L357.5 1203.1" stroke="#ffc000" stroke-width="4.2" fill="none" stroke-linecap="butt"/><path d="M365.6 1201L386.2 1221.6M365.6 1221.6L386.2 1201" stroke="#ffc000" stroke-width="4.2" fill="none" stroke-linecap="butt"/><path d="M394.4 1197.7L415 1218.3M394.4 1218.3L415 1197.7" stroke="#ffc000" stroke-width="4.2" fill="none" stroke-linecap="butt"/><path d="M423.1 1193.1L443.8 1213.7M423.1 1213.7L443.8 1193.1" stroke="#ffc000" stroke-width="4.2" fill="none" stroke-linecap="butt"/><path d="M451.9 1186.1L472.5 1206.7M451.9 1206.7L472.5 1186.1" stroke="#ffc000" stroke-width="4.2" fill="none" stroke-linecap="butt"/><path d="M480.6 1175.7L501.2 1196.3M480.6 1196.3L501.2 1175.7" stroke="#ffc000" stroke-width="4.2" fill="none" stroke-linecap="butt"/><path d="M509.4 1161.4L530 1182M509.4 1182L530 1161.4" stroke="#ffc000" stroke-width="4.2" fill="none" stroke-linecap="butt"/><path d="M538.2 1141.2L558.8 1161.8M538.2 1161.8L558.8 1141.2" stroke="#ffc000" stroke-width="4.2" fill="none" stroke-linecap="butt"/><path d="M566.9 1119.1L587.5 1139.7M566.9 1139.7L587.5 1119.1" stroke="#ffc000" stroke-width="4.2" fill="none" stroke-linecap="butt"/><path d="M595.7 1093.2L616.2 1113.8M595.7 1113.8L616.2 1093.2" stroke="#ffc000" stroke-width="4.2" fill="none" stroke-linecap="butt"/><path d="M624.4 1062.7L645 1083.3M624.4 1083.3L645 1062.7" stroke="#ffc000" stroke-width="4.2" fill="none" stroke-linecap="butt"/><path d="M653.2 1028.2L673.8 1048.8M653.2 1048.8L673.8 1028.2" stroke="#ffc000" stroke-width="4.2" fill="none" stroke-linecap="butt"/><path d="M681.9 992.7L702.5 1013.3M681.9 1013.3L702.5 992.7" stroke="#ffc000" stroke-width="4.2" fill="none" stroke-linecap="butt"/><path d="M710.7 952.7L731.2 973.3M710.7 973.3L731.2 952.7" stroke="#ffc000" stroke-width="4.2" fill="none" stroke-linecap="butt"/><path d="M739.4 915.4L760 936M739.4 936L760 915.4" stroke="#ffc000" stroke-width="4.2" fill="none" stroke-linecap="butt"/><path d="M768.2 879.5L788.8 900.1M768.2 900.1L788.8 879.5" stroke="#ffc000" stroke-width="4.2" fill="none" stroke-linecap="butt"/><path d="M796.9 845.2L817.5 865.8M796.9 865.8L817.5 845.2" stroke="#ffc000" stroke-width="4.2" fill="none" stroke-linecap="butt"/><path d="M825.7 813.5L846.2 834.1M825.7 834.1L846.2 813.5" stroke="#ffc000" stroke-width="4.2" fill="none" stroke-linecap="butt"/><path d="M854.4 784.7L875 805.3M854.4 805.3L875 784.7" stroke="#ffc000" stroke-width="4.2" fill="none" stroke-linecap="butt"/><path d="M883.2 758.2L903.8 778.8M883.2 778.8L903.8 758.2" stroke="#ffc000" stroke-width="4.2" fill="none" stroke-linecap="butt"/><path d="M911.9 733.2L932.5 753.8M911.9 753.8L932.5 733.2" stroke="#ffc000" stroke-width="4.2" fill="none" stroke-linecap="butt"/><path d="M940.7 711.7L961.2 732.3M940.7 732.3L961.2 711.7" stroke="#ffc000" stroke-width="4.2" fill="none" stroke-linecap="butt"/><path d="M969.4 693.7L990 714.3M969.4 714.3L990 693.7" stroke="#ffc000" stroke-width="4.2" fill="none" stroke-linecap="butt"/><path d="M998.2 680.3L1018.8 700.9M998.2 700.9L1018.8 680.3" stroke="#ffc000" stroke-width="4.2" fill="none" stroke-linecap="butt"/><path d="M1026.9 662.7L1047.5 683.3M1026.9 683.3L1047.5 662.7" stroke="#ffc000" stroke-width="4.2" fill="none" stroke-linecap="butt"/><path d="M1055.7 650.2L1076.2 670.8M1055.7 670.8L1076.2 650.2" stroke="#ffc000" stroke-width="4.2" fill="none" stroke-linecap="butt"/><path d="M1084.4 636.7L1105 657.3M1084.4 657.3L1105 636.7" stroke="#ffc000" stroke-width="4.2" fill="none" stroke-linecap="butt"/><path d="M1113.2 622.7L1133.8 643.3M1113.2 643.3L1133.8 622.7" stroke="#ffc000" stroke-width="4.2" fill="none" stroke-linecap="butt"/><path d="M1141.9 604.7L1162.5 625.3M1141.9 625.3L1162.5 604.7" stroke="#ffc000" stroke-width="4.2" fill="none" stroke-linecap="butt"/><path d="M1170.7 596.1L1191.2 616.7M1170.7 616.7L1191.2 596.1" stroke="#ffc000" stroke-width="4.2" fill="none" stroke-linecap="butt"/><path d="M1199.4 584.7L1220 605.3M1199.4 605.3L1220 584.7" stroke="#ffc000" stroke-width="4.2" fill="none" stroke-linecap="butt"/><path d="M1228.2 574.7L1248.8 595.3M1228.2 595.3L1248.8 574.7" stroke="#ffc000" stroke-width="4.2" fill="none" stroke-linecap="butt"/><path d="M1256.9 565.9L1277.5 586.5M1256.9 586.5L1277.5 565.9" stroke="#ffc000" stroke-width="4.2" fill="none" stroke-linecap="butt"/><path d="M1285.7 559.5L1306.2 580.1M1285.7 580.1L1306.2 559.5" stroke="#ffc000" stroke-width="4.2" fill="none" stroke-linecap="butt"/><path d="M1314.4 555.2L1335 575.8M1314.4 575.8L1335 555.2" stroke="#ffc000" stroke-width="4.2" fill="none" stroke-linecap="butt"/><path d="M1343.2 551L1363.8 571.6M1343.2 571.6L1363.8 551" stroke="#ffc000" stroke-width="4.2" fill="none" stroke-linecap="butt"/><path d="M1371.9 547.7L1392.5 568.3M1371.9 568.3L1392.5 547.7" stroke="#ffc000" stroke-width="4.2" fill="none" stroke-linecap="butt"/><path d="M1400.7 545.5L1421.2 566.1M1400.7 566.1L1421.2 545.5" stroke="#ffc000" stroke-width="4.2" fill="none" stroke-linecap="butt"/><path d="M1429.4 545.5L1450 566.1M1429.4 566.1L1450 545.5" stroke="#ffc000" stroke-width="4.2" fill="none" stroke-linecap="butt"/><path d="M1458.2 545.5L1478.8 566.1M1458.2 566.1L1478.8 545.5" stroke="#ffc000" stroke-width="4.2" fill="none" stroke-linecap="butt"/><path d="M1486.9 545.5L1507.5 566.1M1486.9 566.1L1507.5 545.5" stroke="#ffc000" stroke-width="4.2" fill="none" stroke-linecap="butt"/><path d="M1515.7 545.4L1536.2 566M1515.7 566L1536.2 545.4" stroke="#ffc000" stroke-width="4.2" fill="none" stroke-linecap="butt"/><path d="M1544.4 545.4L1565 566M1544.4 566L1565 545.4" stroke="#ffc000" stroke-width="4.2" fill="none" stroke-linecap="butt"/><path d="M1573.2 545.4L1593.8 566M1573.2 566L1593.8 545.4" stroke="#ffc000" stroke-width="4.2" fill="none" stroke-linecap="butt"/><path d="M1601.9 545.4L1622.5 566M1601.9 566L1622.5 545.4" stroke="#ffc000" stroke-width="4.2" fill="none" stroke-linecap="butt"/><path d="M1630.7 545.4L1651.2 566M1630.7 566L1651.2 545.4" stroke="#ffc000" stroke-width="4.2" fill="none" stroke-linecap="butt"/><path d="M1659.4 545.4L1680 566M1659.4 566L1680 545.4" stroke="#ffc000" stroke-width="4.2" fill="none" stroke-linecap="butt"/><path d="M1688.2 545.4L1708.8 566M1688.2 566L1708.8 545.4" stroke="#ffc000" stroke-width="4.2" fill="none" stroke-linecap="butt"/><path d="M1716.9 545.3L1737.5 565.9M1716.9 565.9L1737.5 545.3" stroke="#ffc000" stroke-width="4.2" fill="none" stroke-linecap="butt"/><path d="M1745.7 545.3L1766.2 565.9M1745.7 565.9L1766.2 545.3" stroke="#ffc000" stroke-width="4.2" fill="none" stroke-linecap="butt"/><path d="M1774.4 545.3L1795 565.9M1774.4 565.9L1795 545.3" stroke="#ffc000" stroke-width="4.2" fill="none" stroke-linecap="butt"/><path d="M1803.2 545.3L1823.8 565.9M1803.2 565.9L1823.8 545.3" stroke="#ffc000" stroke-width="4.2" fill="none" stroke-linecap="butt"/><path d="M1831.9 545.3L1852.5 565.9M1831.9 565.9L1852.5 545.3" stroke="#ffc000" stroke-width="4.2" fill="none" stroke-linecap="butt"/><path d="M1860.7 545.3L1881.2 565.9M1860.7 565.9L1881.2 545.3" stroke="#ffc000" stroke-width="4.2" fill="none" stroke-linecap="butt"/><path d="M1889.4 545.3L1910 565.9M1889.4 565.9L1910 545.3" stroke="#ffc000" stroke-width="4.2" fill="none" stroke-linecap="butt"/><path d="M1918.2 545.3L1938.8 565.9M1918.2 565.9L1938.8 545.3" stroke="#ffc000" stroke-width="4.2" fill="none" stroke-linecap="butt"/><path d="M1946.9 545.2L1967.5 565.8M1946.9 565.8L1967.5 545.2" stroke="#ffc000" stroke-width="4.2" fill="none" stroke-linecap="butt"/><path d="M1975.7 545.2L1996.2 565.8M1975.7 565.8L1996.2 545.2" stroke="#ffc000" stroke-width="4.2" fill="none" stroke-linecap="butt"/><path d="M2004.4 545.2L2025 565.8M2004.4 565.8L2025 545.2" stroke="#ffc000" stroke-width="4.2" fill="none" stroke-linecap="butt"/><path d="M2033.2 545.2L2053.8 565.8M2033.2 565.8L2053.8 545.2" stroke="#ffc000" stroke-width="4.2" fill="none" stroke-linecap="butt"/>
</g>
<path d="M980.1 163.6V1215.2" stroke="#000" stroke-width="5.3" fill="none"/>
<path d="M1203 830.4H1270.4" stroke="#000000" stroke-width="4.5" fill="none"/><rect x="1227.6" y="820.6" width="17.2" height="17.2" fill="#000000"/><text font-size="49.6" x="1293.5" y="843.4"><tspan class="it">S</tspan><tspan class="it" font-size="27.5" dy="7">w</tspan><tspan dx="2" dy="-7"> = 100%</tspan></text>
<path d="M1643.8 830.4H1714" stroke="#c00000" stroke-width="4.5" fill="none"/><path d="M1678.4 820.2L1688.1 829.9L1678.4 839.6L1668.7 829.9Z" fill="#c00000"/><text font-size="49.6" x="1730" y="843.4"><tspan class="it">S</tspan><tspan class="it" font-size="27.5" dy="7">w</tspan><tspan dx="2" dy="-7"> = 95.64%</tspan></text>
<path d="M1203 924H1270.4" stroke="#00b0f0" stroke-width="4.5" fill="none"/><path d="M1236.2 915L1246.6 935L1225.8 935Z" fill="#00b0f0"/><text font-size="49.6" x="1295.5" y="937.9"><tspan class="it">S</tspan><tspan class="it" font-size="27.5" dy="7">w</tspan><tspan dx="2" dy="-7"> = 82.27%</tspan></text>
<path d="M1643.8 924H1714" stroke="#00b050" stroke-width="4.5" fill="none"/><circle cx="1678.4" cy="924" r="9.9" fill="none" stroke="#00b050" stroke-width="3.8"/><text font-size="49.6" x="1732" y="937.9"><tspan class="it">S</tspan><tspan class="it" font-size="27.5" dy="7">w</tspan><tspan dx="2" dy="-7"> = 72.35%</tspan></text>
<path d="M1203 1016.6H1270.4" stroke="#7030a0" stroke-width="4.5" fill="none"/><circle cx="1236.2" cy="1016.6" r="8.7" fill="#7030a0"/><text font-size="49.6" x="1295.5" y="1031.5"><tspan class="it">S</tspan><tspan class="it" font-size="27.5" dy="7">w</tspan><tspan dx="2" dy="-7"> = 64.12%</tspan></text>
<path d="M1643.8 1016.6H1714" stroke="#ffc000" stroke-width="4.5" fill="none"/><path d="M1668.9 1007.1L1687.9 1026.1M1668.9 1026.1L1687.9 1007.1" stroke="#ffc000" stroke-width="4.2" fill="none" stroke-linecap="butt"/><text font-size="49.6" x="1732" y="1031.5"><tspan class="it">S</tspan><tspan class="it" font-size="27.5" dy="7">w</tspan><tspan dx="2" dy="-7"> = 57.73%</tspan></text>
</svg>
</body></html>
